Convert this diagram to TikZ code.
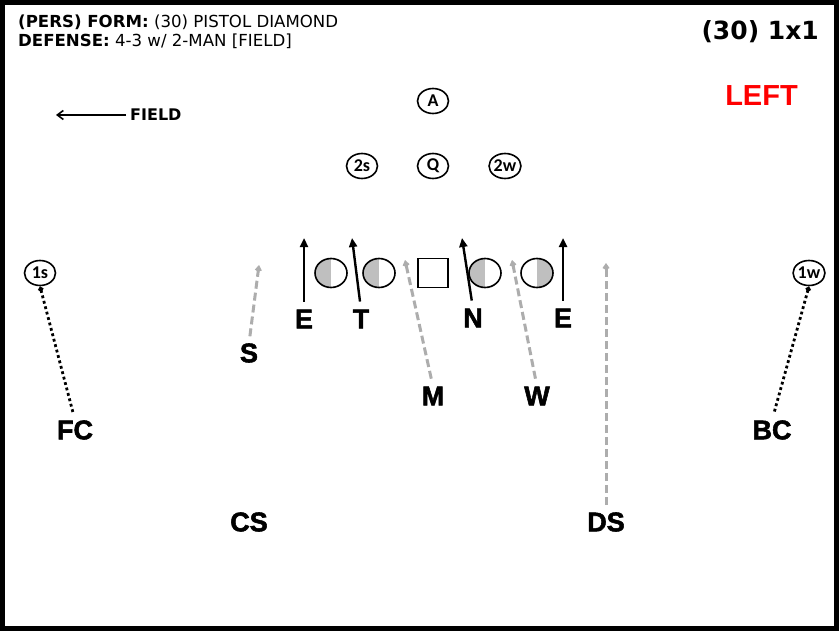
\documentclass[tikz,border=0pt]{standalone}
\usepackage{fontspec}
\usetikzlibrary{arrows.meta,shapes.geometric}
\newfontfamily\hdrfont{DejaVu Sans}
\newfontfamily\arlfont{Liberation Sans}
\newfontfamily\blkfont{Liberation Sans Bold}[FakeBold=2]
\newfontfamily\calfont{Carlito}
\definecolor{shadegray}{HTML}{BFBFBF}
\definecolor{routegray}{HTML}{ADADAD}
\definecolor{leftred}{HTML}{FF0000}
\tikzset{
  hdr/.style={anchor=base west, inner sep=0pt, font=\hdrfont\fontsize{16.6}{17}\selectfont},
  poslbl/.style={inner sep=0pt, font=\blkfont\fontsize{27}{27}\selectfont},
  offp/.style={draw, ellipse, line width=1.6pt, minimum width=31pt, minimum height=25pt, inner sep=0pt, font=\calfont\bfseries\fontsize{18}{18}\selectfont},
  lman/.style={draw, ellipse, line width=1.6pt, minimum width=32pt, minimum height=29pt, inner sep=0pt},
  halfL/.style={path picture={\fill[shadegray] (path picture bounding box.south west) rectangle (path picture bounding box.north);}},
  halfR/.style={path picture={\fill[shadegray] (path picture bounding box.south) rectangle (path picture bounding box.north east);}},
  ctrbox/.style={draw, rectangle, line width=1.6pt, minimum width=30pt, minimum height=29pt, inner sep=0pt},
  rush/.style={line width=2.4pt, -{Triangle[length=9pt,width=8pt]}, shorten <=8pt},
  drop/.style={line width=3pt, routegray, dash pattern=on 8pt off 4pt, -{Kite[length=7pt,width=7pt,inset=2pt]}, shorten <=7pt},
  man/.style={line width=2.8pt, dash pattern=on 2.8pt off 2.8pt, {Diamond[length=6pt,width=6pt]}-, shorten >=8pt},
}
\begin{document}
\begin{tikzpicture}[x=1pt,y=-1pt]
\useasboundingbox (0,0) rectangle (840,631);
\draw[line width=5pt] (2.5,2.5) rectangle (836.5,628);

% header
\node[hdr] (h1) at (18,28) {\textbf{(PERS) FORM:} (30) PISTOL DIAMOND};
\node[hdr] (h2) at (18,47) {\textbf{DEFENSE:} 4-3 w/ 2-MAN [FIELD]};
\node[anchor=base east, inner sep=0pt, font=\hdrfont\bfseries\fontsize{25}{25}\selectfont] (pers) at (819,40) {(30) 1x1};
\node[inner sep=0pt, text=leftred, font=\arlfont\bfseries\fontsize{29}{29}\selectfont] (side) at (761.5,96) {LEFT};

% field indicator
\node[anchor=west, inner sep=0pt, font=\hdrfont\bfseries\fontsize{16}{16}\selectfont] (fld) at (130,115) {FIELD};
\coordinate (fldtip) at (56,115);
\draw[line width=1.6pt, -{Straight Barb[length=6pt,width=9pt]}, shorten <=4pt] (fld.west) -- (fldtip);

% offense
\node[offp] (A) at (433,101) {A};
\node[offp] (s2) at (362,166) {2s};
\node[offp] (Q) at (433,166) {Q};
\node[offp] (w2) at (505,166) {2w};
\node[offp] (s1) at (40,273) {1s};
\node[offp] (w1) at (809,273) {1w};

\node[lman, halfL] (lt) at (331,273) {};
\node[lman, halfL] (lg) at (379,273) {};
\node[ctrbox] (C) at (433,273) {};
\node[lman, halfL] (rg) at (485,273) {};
\node[lman, halfR] (rt) at (537,273) {};

% defense labels
\node[poslbl] (E1) at (304,319) {E};
\node[poslbl] (T) at (361,319) {T};
\node[poslbl] (N) at (473,318) {N};
\node[poslbl] (E2) at (563,318) {E};
\node[poslbl] (S) at (249,353) {S};
\node[poslbl] (M) at (433,396) {M};
\node[poslbl] (W) at (537,396) {W};
\node[poslbl] (FC) at (75,430) {FC};
\node[poslbl] (BC) at (772,430) {BC};
\node[poslbl] (CS) at (249,522) {CS};
\node[poslbl] (DS) at (606,522) {DS};

% rush arrows
\coordinate (e1t) at (304,238);
\coordinate (tt) at (352,238);
\coordinate (nt) at (462,238);
\coordinate (e2t) at (563,238);
\draw[rush] (E1.north) -- (e1t);
\draw[rush] (T.north) -- (tt);
\draw[rush] (N.north) -- (nt);
\draw[rush] (E2.north) -- (e2t);

% drops
\coordinate (st) at (259,265);
\coordinate (mt) at (405,260);
\coordinate (wt) at (512,260);
\coordinate (dst) at (606,263);
\draw[drop] (S.north) -- (st);
\draw[drop, shorten <=8pt] (M.north) -- (mt);
\draw[drop, shorten <=8pt] (W.north) -- (wt);
\draw[drop] (DS.north) -- (dst);

% man coverage
\draw[man] (s1.south) -- (FC.north);
\draw[man] (w1.south) -- (BC.north);
\end{tikzpicture}
\end{document}
